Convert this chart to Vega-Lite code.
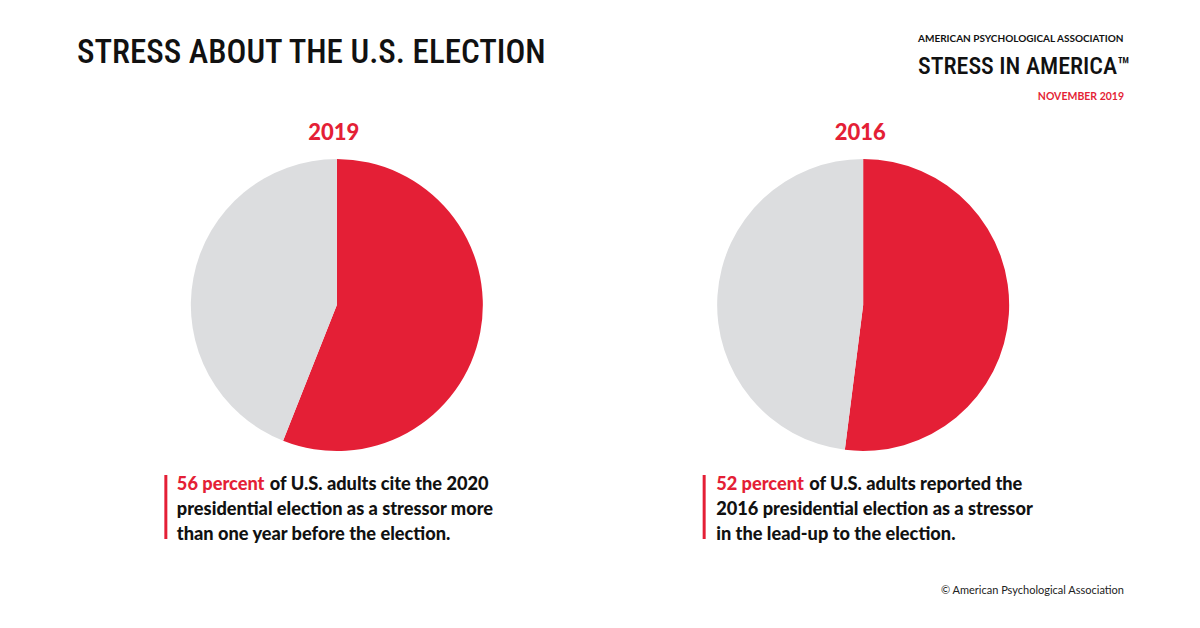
{
  "$schema": "https://vega.github.io/schema/vega-lite/v6.json",
  "width": 1200,
  "height": 628,
  "autosize": "none",
  "padding": 0,
  "background": "white",
  "config": {"view": {"stroke": null}},
  "datasets": {
    "pies": [
      {"year": "2019", "category": "stressed", "pct": 56},
      {"year": "2019", "category": "other", "pct": 44},
      {"year": "2016", "category": "stressed", "pct": 52},
      {"year": "2016", "category": "other", "pct": 48}
    ],
    "notes": [
      {"year": "2019", "lead": "56 percent", "rest": "of U.S. adults cite the 2020", "lines": ["presidential election as a stressor more", "than one year before the election."]},
      {"year": "2016", "lead": "52 percent", "rest": "of U.S. adults reported the", "lines": ["2016 presidential election as a stressor", "in the lead-up to the election."]}
    ],
    "labels": [
      {"id": "title", "text": "STRESS ABOUT THE U.S. ELECTION"},
      {"id": "org", "text": "AMERICAN PSYCHOLOGICAL ASSOCIATION"},
      {"id": "brand", "text": "STRESS IN AMERICA™"},
      {"id": "date", "text": "NOVEMBER 2019"},
      {"id": "copy", "text": "© American Psychological Association"}
    ]
  },
  "layer": [
    {
      "data": {"name": "pies"},
      "transform": [
        {"stack": "pct", "groupby": ["year"], "sort": [{"field": "category", "order": "descending"}], "as": ["t0", "t1"]}
      ],
      "mark": {"type": "arc", "outerRadius": 146},
      "encoding": {
        "x": {"field": "year", "type": "nominal", "sort": ["2019", "2016"], "scale": {"type": "point", "padding": 0.64}, "axis": null},
        "y": {"value": 305},
        "theta": {"field": "t0", "type": "quantitative", "scale": {"domain": [0, 100]}},
        "theta2": {"field": "t1"},
        "color": {"field": "category", "type": "nominal", "scale": {"domain": ["stressed", "other"], "range": ["#E41F36", "#DCDDDF"]}, "legend": null}
      }
    },
    {
      "data": {"name": "pies"},
      "transform": [{"filter": "datum.category == 'stressed'"}],
      "mark": {"type": "text", "font": "Lato", "fontWeight": 900, "fontSize": 22, "color": "#E41F36", "baseline": "alphabetic", "align": "center", "dx": -3},
      "encoding": {
        "x": {"field": "year", "type": "nominal", "sort": ["2019", "2016"]},
        "y": {"value": 140},
        "text": {"field": "year"}
      }
    },
    {
      "data": {"name": "notes"},
      "transform": [{"filter": "datum.year == '2019'"}],
      "layer": [
        {"mark": {"type": "rule", "color": "#E41F36", "strokeWidth": 3, "xOffset": -171}, "encoding": {"x": {"field": "year", "type": "nominal", "sort": ["2019", "2016"]}, "y": {"value": 475}, "y2": {"value": 539}}},
        {"mark": {"type": "text", "font": "Lato", "fontWeight": 900, "fontSize": 18.2, "color": "#E41F36", "align": "left", "baseline": "alphabetic", "dx": -160}, "encoding": {"x": {"field": "year", "type": "nominal", "sort": ["2019", "2016"]}, "y": {"value": 490}, "text": {"field": "lead"}}},
        {"mark": {"type": "text", "font": "Lato", "fontWeight": 900, "fontSize": 18.2, "color": "#111111", "align": "left", "baseline": "alphabetic", "dx": -67}, "encoding": {"x": {"field": "year", "type": "nominal", "sort": ["2019", "2016"]}, "y": {"value": 490}, "text": {"field": "rest"}}},
        {"mark": {"type": "text", "font": "Lato", "fontWeight": 900, "fontSize": 18.2, "color": "#111111", "align": "left", "baseline": "alphabetic", "lineHeight": 25, "dx": -160}, "encoding": {"x": {"field": "year", "type": "nominal", "sort": ["2019", "2016"]}, "y": {"value": 515}, "text": {"field": "lines"}}}
      ]
    },
    {
      "data": {"name": "notes"},
      "transform": [{"filter": "datum.year == '2016'"}],
      "layer": [
        {"mark": {"type": "rule", "color": "#E41F36", "strokeWidth": 3, "xOffset": -159}, "encoding": {"x": {"field": "year", "type": "nominal", "sort": ["2019", "2016"]}, "y": {"value": 475}, "y2": {"value": 539}}},
        {"mark": {"type": "text", "font": "Lato", "fontWeight": 900, "fontSize": 18.2, "color": "#E41F36", "align": "left", "baseline": "alphabetic", "dx": -147}, "encoding": {"x": {"field": "year", "type": "nominal", "sort": ["2019", "2016"]}, "y": {"value": 490}, "text": {"field": "lead"}}},
        {"mark": {"type": "text", "font": "Lato", "fontWeight": 900, "fontSize": 18.2, "color": "#111111", "align": "left", "baseline": "alphabetic", "dx": -54}, "encoding": {"x": {"field": "year", "type": "nominal", "sort": ["2019", "2016"]}, "y": {"value": 490}, "text": {"field": "rest"}}},
        {"mark": {"type": "text", "font": "Lato", "fontWeight": 900, "fontSize": 18.2, "color": "#111111", "align": "left", "baseline": "alphabetic", "lineHeight": 25, "dx": -147}, "encoding": {"x": {"field": "year", "type": "nominal", "sort": ["2019", "2016"]}, "y": {"value": 515}, "text": {"field": "lines"}}}
      ]
    },
    {
      "data": {"name": "labels"},
      "transform": [{"filter": "datum.id == 'title'"}],
      "mark": {"type": "text", "font": "Roboto Condensed", "fontWeight": 500, "fontSize": 33, "color": "#111111", "align": "left", "baseline": "alphabetic"},
      "encoding": {"x": {"value": 77}, "y": {"value": 63}, "text": {"field": "text"}}
    },
    {
      "data": {"name": "labels"},
      "transform": [{"filter": "datum.id == 'org'"}],
      "mark": {"type": "text", "font": "Lato", "fontWeight": "bold", "fontSize": 10, "color": "#111111", "align": "left", "baseline": "alphabetic"},
      "encoding": {"x": {"value": 918}, "y": {"value": 42}, "text": {"field": "text"}}
    },
    {
      "data": {"name": "labels"},
      "transform": [{"filter": "datum.id == 'brand'"}],
      "mark": {"type": "text", "font": "Roboto Condensed", "fontWeight": 500, "fontSize": 24, "color": "#111111", "align": "left", "baseline": "alphabetic"},
      "encoding": {"x": {"value": 918}, "y": {"value": 74}, "text": {"field": "text"}}
    },
    {
      "data": {"name": "labels"},
      "transform": [{"filter": "datum.id == 'date'"}],
      "mark": {"type": "text", "font": "Lato", "fontWeight": "bold", "fontSize": 10.5, "color": "#E41F36", "align": "right", "baseline": "alphabetic"},
      "encoding": {"x": {"value": 1124}, "y": {"value": 100}, "text": {"field": "text"}}
    },
    {
      "data": {"name": "labels"},
      "transform": [{"filter": "datum.id == 'copy'"}],
      "mark": {"type": "text", "font": "Lato", "fontSize": 11, "color": "#222222", "align": "right", "baseline": "alphabetic"},
      "encoding": {"x": {"value": 1124}, "y": {"value": 594}, "text": {"field": "text"}}
    }
  ]
}
